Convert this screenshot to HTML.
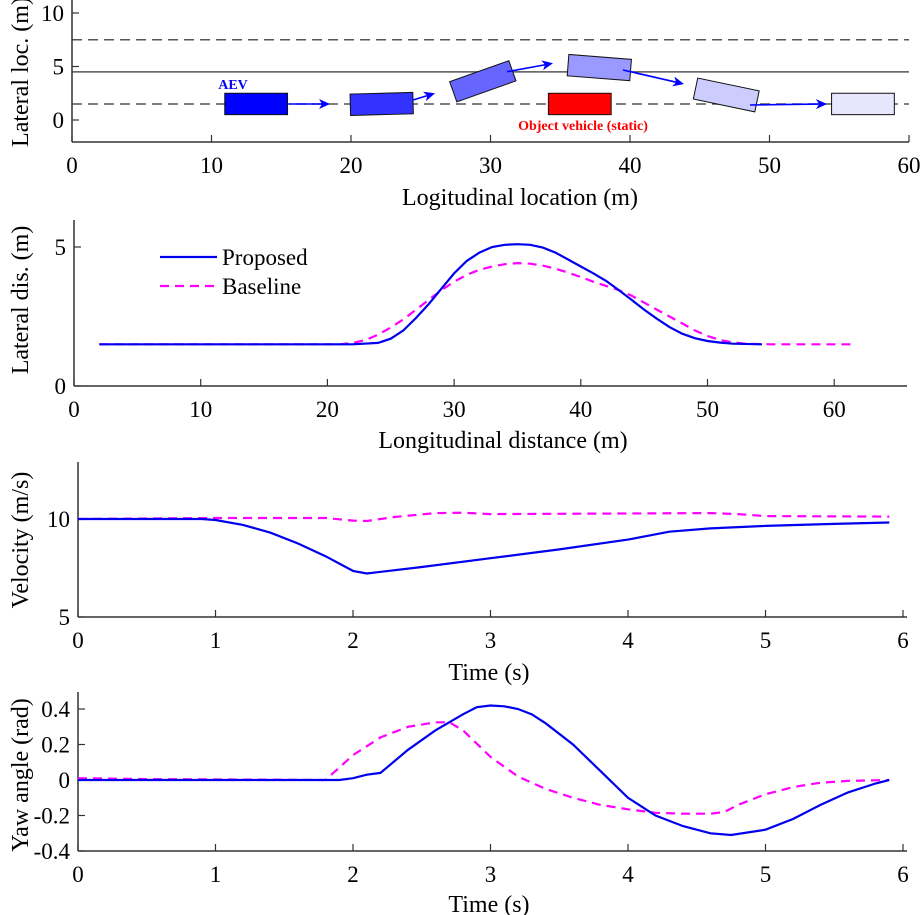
<!DOCTYPE html>
<html><head><meta charset="utf-8"><style>
html,body{margin:0;padding:0;background:#fff;}
svg{display:block;font-family:"Liberation Serif",serif;}
</style></head><body>
<svg id="fig" width="921" height="915" viewBox="0 0 921 915"></svg>
<script>
// ---------- data ----------
const p2PropX=[2,22,24,25,26,27,28,29,30,31,32,33,34,35,36,37,38,39,40,41,42,43,44,45,46,47,48,49,50,51,52,54.3];
const p2PropY=[1.5,1.5,1.55,1.7,2.0,2.45,2.95,3.5,4.05,4.5,4.8,5.0,5.08,5.1,5.08,4.98,4.8,4.55,4.3,4.05,3.78,3.45,3.1,2.75,2.42,2.12,1.88,1.72,1.62,1.56,1.52,1.5];
const p2BaseX=[2,21,22,23,24,25,26,27,28,29,30,31,32,33,34,35,36,37,38,39,40,41,42,43,44,45,46,47,48,49,50,51,52,53,55,61.5];
const p2BaseY=[1.5,1.5,1.55,1.65,1.85,2.1,2.4,2.75,3.1,3.45,3.75,4.0,4.18,4.3,4.38,4.42,4.4,4.33,4.22,4.08,3.92,3.75,3.6,3.45,3.25,3.0,2.75,2.5,2.25,2.0,1.8,1.65,1.57,1.52,1.5,1.5];
const velT=[0,0.9,1.0,1.2,1.4,1.6,1.8,2.0,2.1,2.5,3.0,3.5,4.0,4.3,4.6,5.0,5.5,5.9];
const velProp=[10,10,9.95,9.7,9.3,8.75,8.1,7.35,7.22,7.55,8.0,8.45,8.95,9.35,9.52,9.65,9.75,9.82];
const velBaseT=[0,1,1.8,2.0,2.1,2.3,2.6,2.8,3.0,4.6,4.8,5.0,5.9];
const velBase=[10,10.05,10.05,9.92,9.9,10.1,10.3,10.32,10.25,10.3,10.25,10.15,10.12];
const yawT=[0,1.9,2.0,2.1,2.2,2.4,2.6,2.8,2.9,3.0,3.1,3.2,3.3,3.4,3.6,3.8,4.0,4.2,4.4,4.6,4.75,5.0,5.2,5.4,5.6,5.8,5.9];
const yawProp=[0,0,0.01,0.03,0.04,0.17,0.28,0.37,0.41,0.42,0.415,0.4,0.37,0.32,0.2,0.05,-0.1,-0.2,-0.26,-0.3,-0.31,-0.28,-0.22,-0.14,-0.07,-0.02,0];
const yawBaseT=[0,0.5,1.8,1.9,2.0,2.2,2.4,2.6,2.7,2.8,3.0,3.2,3.4,3.6,3.8,4.0,4.2,4.4,4.6,4.7,4.8,5.0,5.2,5.4,5.6,5.9];
const yawBase=[0.01,0.005,0,0.07,0.14,0.24,0.3,0.325,0.325,0.28,0.13,0.02,-0.05,-0.1,-0.14,-0.165,-0.185,-0.19,-0.19,-0.18,-0.14,-0.08,-0.04,-0.015,-0.005,0];
// top panel vehicles: center x, center y (m), screen angle (deg)
const carX=[13.2,22.2,29.45,37.8,46.9,56.7];
const carY=[1.5,1.5,3.62,4.9,2.34,1.5];
const carAng=[0,-1.5,-19.5,4.5,11.8,0];
const carFill=["#0000ff","#3333ff","#6666ff","#9999ff","#ccccff","#e6e6ff"];
const objX=[36.4], objY=[1.5];
const laneY=[7.5,4.5,1.5];
const p1Ticks=[0,10,20,30,40,50,60], p1YTicks=[0,5,10];
const p2Ticks=[0,10,20,30,40,50,60], p2YTicks=[0,5];
const tTicks=[0,1,2,3,4,5,6], velYTicks=[5,10], yawYTicks=[-0.4,-0.2,0,0.2,0.4];

const NS="http://www.w3.org/2000/svg";
const svg=document.getElementById('fig');
function mk(tag,attrs,parent){const e=document.createElementNS(NS,tag);for(const k in attrs)e.setAttribute(k,attrs[k]);(parent||svg).appendChild(e);return e;}
function scale(d0,d1,r0,r1){return v=>r0+(v-d0)*(r1-r0)/(d1-d0);}

function axes(g,sx,sy,left,right,top,bottom,xt,yt,fmt){
  const a=mk('line',{x1:left,y1:bottom,x2:right,y2:bottom,stroke:'#333','stroke-width':1.5},g);
  
  const b=mk('line',{x1:left,y1:top,x2:left,y2:bottom,stroke:'#333','stroke-width':1.5},g);
  
  xt.forEach(v=>{const x=sx(v);
    mk('line',{x1:x,y1:bottom,x2:x,y2:bottom-7,stroke:'#333','stroke-width':1.2},g);
    const t=mk('text',{x:x,y:bottom+31,'text-anchor':'middle','font-size':23},g);t.textContent=v;
    });
  yt.forEach(v=>{const y=sy(v);
    mk('line',{x1:left,y1:y,x2:left+7,y2:y,stroke:'#333','stroke-width':1.2},g);
    const t=mk('text',{x:left-8,y:y+8,'text-anchor':'end','font-size':23},g);t.textContent=fmt?fmt(v):v;
    });
}
function line(g,xs,ys,sx,sy,color,dash,name){
  const d=xs.map((v,i)=>(i?'L':'M')+sx(v).toFixed(1)+','+sy(ys[i]).toFixed(1)).join('');
  const p=mk('path',{d:d,fill:'none',stroke:color,'stroke-width':2.2,'stroke-dasharray':dash||'none'},g);
  
}
function label(g,x,y,txt,rot,name){
  const t=mk('text',{x:x,y:y,'text-anchor':'middle','font-size':24,transform:rot?`rotate(-90 ${x} ${y})`:''},g);
  t.textContent=txt;
}
function group(name){const g=mk('g',{});return g;}
const MAG='#ff00ff', BLU='#0000ee', DASH='9,6';

// ---------- panel 1 ----------
(function(){
  const g=group('lateral-location-panel');
  const sx=scale(0,60,72,909), sy=scale(0,10,120,13);
  laneY.forEach((v,i)=>{const l=mk('line',{x1:72,x2:909,y1:sy(v),y2:sy(v),stroke:'#555','stroke-width':1.5,'stroke-dasharray':i==1?'none':'10,6'},g);
    });
  const kx=(sx(1)-sx(0)), ky=(sy(0)-sy(1));
  carX.forEach((v,i)=>{const cx=sx(v), cy=sy(carY[i]); const w=4.5*kx, h=2*ky;
    const r=mk('rect',{x:cx-w/2,y:cy-h/2,width:w,height:h,fill:carFill[i],stroke:'#111','stroke-width':1,transform:`rotate(${carAng[i]} ${cx} ${cy})`},g);
    });
  const o=mk('rect',{x:sx(objX[0])-4.5*kx/2,y:sy(objY[0])-ky,width:4.5*kx,height:2*ky,fill:'#ff0000',stroke:'#111','stroke-width':1},g);
  
  const arrows=[[289,104,330,104],[413,100,435,93.3],[507,71.7,553,63.3],[623,70,684,84],[750,105,827,104]];
  arrows.forEach(a=>{const ag=mk('g',{},g);
    const ang=Math.atan2(a[3]-a[1],a[2]-a[0]);
    mk('line',{x1:a[0],y1:a[1],x2:a[2]-8*Math.cos(ang),y2:a[3]-8*Math.sin(ang),stroke:'#0000ff','stroke-width':1.6},ag);
    const p=(d,s)=>[a[2]-d*Math.cos(ang)+s*Math.sin(ang),a[3]-d*Math.sin(ang)-s*Math.cos(ang)];
    const q=[[a[2],a[3]],p(11,5),p(8,0),p(11,-5)];
    mk('polygon',{points:q.map(z=>z.join(',')).join(' '),fill:'#0000ff'},ag);});
  const t1=mk('text',{x:233,y:89,'text-anchor':'middle','font-size':14,'font-weight':'bold',fill:'#0000ff'},g);t1.textContent='AEV';
  
  const t2=mk('text',{x:583,y:130,'text-anchor':'middle','font-size':14,'font-weight':'bold',fill:'#ff0000'},g);t2.textContent='Object vehicle (static)';
  
  axes(g,sx,sy,72,909,0,142,p1Ticks,p1YTicks);
  label(g,520,205,'Logitudinal location (m)',false,'x-axis-title');
  label(g,28,72,'Lateral loc. (m)',true,'y-axis-title');
})();

// ---------- panel 2 ----------
(function(){
  const g=group('lateral-distance-panel');
  const sx=scale(0,10,74,200.7), sy=scale(0,5,386,247);
  axes(g,sx,sy,74,907,220,386,p2Ticks,p2YTicks);
  line(g,p2BaseX,p2BaseY,sx,sy,MAG,DASH,'baseline-line');
  line(g,p2PropX,p2PropY,sx,sy,BLU,null,'proposed-line');
  const lg=mk('g',{},g);
  mk('line',{x1:160,y1:257,x2:217,y2:257,stroke:BLU,'stroke-width':2.2},lg);
  let t=mk('text',{x:222,y:265,'font-size':23},lg);t.textContent='Proposed';
  mk('line',{x1:160,y1:286,x2:217,y2:286,stroke:MAG,'stroke-width':2.2,'stroke-dasharray':DASH},lg);
  t=mk('text',{x:222,y:294,'font-size':23},lg);t.textContent='Baseline';
  label(g,503,448,'Longitudinal distance (m)',false,'x-axis-title');
  label(g,28,300,'Lateral dis. (m)',true,'y-axis-title');
})();

// ---------- panel 3 ----------
(function(){
  const g=group('velocity-panel');
  const sx=scale(0,1,78,215.5), sy=scale(5,10,617,519);
  axes(g,sx,sy,78,907,462,617,tTicks,velYTicks);
  line(g,velBaseT,velBase,sx,sy,MAG,DASH,'baseline-line');
  line(g,velT,velProp,sx,sy,BLU,null,'proposed-line');
  label(g,489,680,'Time (s)',false,'x-axis-title');
  label(g,28,540,'Velocity (m/s)',true,'y-axis-title');
})();

// ---------- panel 4 ----------
(function(){
  const g=group('yaw-angle-panel');
  const sx=scale(0,1,78,215.5), sy=scale(0,0.4,780,709);
  axes(g,sx,sy,78,907,692,851,tTicks,yawYTicks,v=>v===0?'0':v.toFixed(1));
  line(g,yawBaseT,yawBase,sx,sy,MAG,DASH,'baseline-line');
  line(g,yawT,yawProp,sx,sy,BLU,null,'proposed-line');
  label(g,489,912,'Time (s)',false,'x-axis-title');
  label(g,28,775,'Yaw angle (rad)',true,'y-axis-title');
})();
</script>
</body></html>
